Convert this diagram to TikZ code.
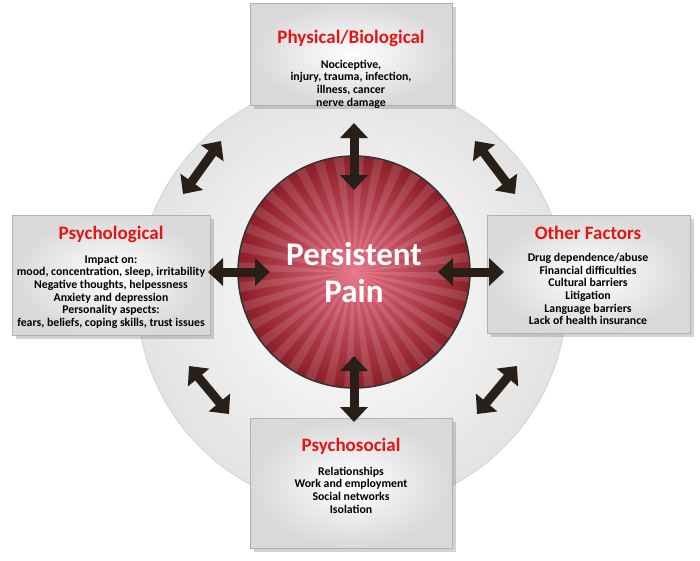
\documentclass[tikz,border=0pt]{standalone}
\usepackage{fontspec}
\setmainfont{Carlito}
\usetikzlibrary{arrows.meta,shadows}
\definecolor{ttl}{RGB}{230,20,20}
\definecolor{arr}{RGB}{40,32,24}
\tikzset{
 box/.style={draw=gray!60, inner color=white, outer color=gray!30, minimum width=202pt, anchor=north west, drop shadow={shadow xshift=4pt,shadow yshift=-4pt,opacity=0.35}},
 ttlf/.style={text=ttl, font=\bfseries\fontsize{19}{21}\selectfont},
 bodyf/.style={font=\bfseries\fontsize{11.8}{12.6}\selectfont, align=center},
 dbl/.style={arr, line width=9pt, {Triangle[length=15pt,width=27pt]}-{Triangle[length=15pt,width=27pt]}}
}
\begin{document}
\begin{tikzpicture}[x=1pt,y=-1pt]
\useasboundingbox (0,0) rectangle (700,560);
\fill[white] (0,0) rectangle (700,560);
% big disc
\shade[inner color=white, outer color=gray!22] (352,295) circle (215);
\draw[gray!35, line width=0.8pt] (352,295) circle (215);
% center circle
\coordinate (c) at (354,272);
\shade[inner color={rgb,255:red,230;green,110;blue,130}, outer color={rgb,255:red,140;green,30;blue,40}] (c) circle (116);
\begin{scope}
\clip (c) circle (116);
\foreach \a in {0,10,...,350}{
 \fill[white, opacity=0.12] (c) -- ++(\a:140) -- ++(\a+90:12) -- cycle;
}
\end{scope}
\draw[black!80, line width=1.5pt] (c) circle (116);
\node[text=white, font=\bfseries\fontsize{33}{37}\selectfont, align=center] (pp) at (354,273) {Persistent\\Pain};
% boxes
\node[box, minimum height=102pt] (top) at (250,3) {};
\node[ttlf] (tt) at (351,38) {Physical/Biological};
\node[bodyf] (tb) at (351,84) {Nociceptive,\\injury, trauma, infection,\\illness, cancer\\nerve damage};

\node[box, minimum width=198pt, minimum height=120pt] (left) at (12,215) {};
\node[ttlf] (lt) at (111,234) {Psychological};
\node[bodyf] (lb) at (111,292) {Impact on:\\mood, concentration, sleep, irritability\\Negative thoughts, helpessness\\Anxiety and depression\\Personality aspects:\\fears, beliefs, coping skills, trust issues};

\node[box, minimum width=203pt, minimum height=118pt] (right) at (487,215) {};
\node[ttlf] (rt) at (588,233) {Other Factors};
\node[bodyf] (rb) at (588,289) {Drug dependence/abuse\\Financial difficulties\\Cultural barriers\\Litigation\\Language barriers\\Lack of health insurance};

\node[box, minimum height=130pt] (bot) at (250,418) {};
\node[ttlf] (bt) at (351,446) {Psychosocial};
\node[bodyf] (bb) at (351,490) {Relationships\\Work and employment\\Social networks\\Isolation};
% arrows
\coordinate (a1) at (354,123); \coordinate (a2) at (354,190);
\coordinate (b1) at (354,356); \coordinate (b2) at (354,422);
\coordinate (l1) at (208,272); \coordinate (l2) at (270,272);
\coordinate (r1) at (438,272); \coordinate (r2) at (504,272);
\coordinate (d1) at (183,194); \coordinate (d2) at (221,141);
\coordinate (e1) at (475,141); \coordinate (e2) at (515,194);
\coordinate (f1) at (189,366); \coordinate (f2) at (229,414);
\coordinate (g1) at (477,414); \coordinate (g2) at (517,366);
\foreach \p/\q in {a1/a2,b1/b2,l1/l2,r1/r2,d1/d2,e1/e2,f1/f2,g1/g2}
  \draw[dbl] (\p) -- (\q);
\end{tikzpicture}
\end{document}
